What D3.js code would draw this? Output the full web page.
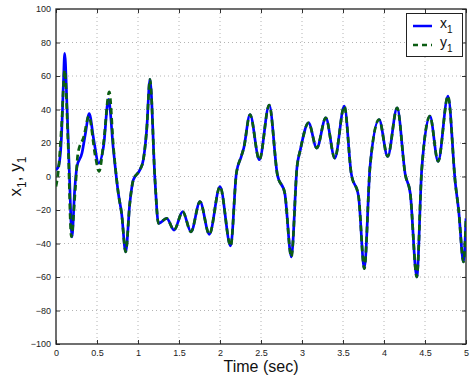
<!DOCTYPE html>
<html><head><meta charset="utf-8">
<script src="https://cdn.jsdelivr.net/npm/d3@7"></script>
<style>html,body{margin:0;padding:0;background:#fff;}svg{display:block;font-family:"Liberation Sans",Arial,sans-serif;}</style>
</head><body>
<svg id="c" width="474" height="378"></svg>
<script>
const xTicks = [0, 0.5, 1, 1.5, 2, 2.5, 3, 3.5, 4, 4.5, 5];
const yTicks = [-100, -80, -60, -40, -20, 0, 20, 40, 60, 80, 100];
const seriesNames = ["x", "y"];

const tX = [0.0,0.03,0.065,0.09,0.106,0.134,0.163,0.195,0.228,0.256,0.317,0.36,0.405,0.46,0.52,0.58,0.64,0.70,0.76,0.80,0.85,0.90,0.943,1.024,1.065,1.106,1.146,1.207,1.25,1.35,1.44,1.545,1.646,1.756,1.87,2.0,2.13,2.2,2.26,2.29,2.366,2.48,2.60,2.70,2.79,2.87,2.94,2.98,3.08,3.18,3.29,3.40,3.516,3.60,3.69,3.76,3.83,3.94,4.045,4.16,4.26,4.32,4.40,4.46,4.56,4.66,4.78,4.87,4.91,4.97,5.0];
const x1 = [4,6,22,55,73.5,42,2,-36,-8,6,14,26,37.5,22,8,18,46,16,-10,-22,-45,-16,-2,4,10,28,58,-2,-28,-25,-32,-21,-33,-15,-34.5,-6,-41.5,2,12,17,37,10,42.7,1,-10,-48,6,16,32,17,35,11,42,2,-12,-55,6,34,12,41,1,-10,-60,4,36,9,48,-4,-20,-51,-25];

const tY = [0.0,0.03,0.07,0.106,0.146,0.187,0.235,0.268,0.34,0.40,0.48,0.525,0.58,0.65,0.70,0.76,0.80,0.85,0.90,0.943,1.024,1.065,1.106,1.146,1.207,1.25,1.35,1.44,1.545,1.646,1.756,1.87,2.0,2.13,2.2,2.26,2.29,2.366,2.48,2.60,2.70,2.79,2.87,2.94,2.98,3.08,3.18,3.29,3.40,3.516,3.60,3.69,3.76,3.83,3.94,4.045,4.16,4.26,4.32,4.40,4.46,4.56,4.66,4.78,4.87,4.91,4.97,5.0];
const y1 = [-6,4,32,63.5,22,-36,-8,14,24,36,12,3,20,50.5,18,-10,-22,-45,-16,-2,4,10,28,58,-2,-28,-25,-32,-21,-33,-15,-34.5,-6,-41.5,2,12,17,37,10,42.7,1,-10,-48,6,16,32,17,35,11,42,2,-12,-55,6,34,12,41,1,-10,-60,4,36,9,48,-4,-20,-51,-25];

const svg = d3.select("#c");
const L = 56, R = 466, T = 9, B = 344;
const x = d3.scaleLinear().domain([0, 5]).range([L, R]);
const y = d3.scaleLinear().domain([-100, 100]).range([B, T]);

// grid
const g = svg.append("g");
g.selectAll(".gx").data(xTicks.slice(1, -1)).enter().append("line")
  .attr("x1", d => x(d)).attr("x2", d => x(d)).attr("y1", T).attr("y2", B)
  .attr("stroke", "#b4b4b4").attr("stroke-width", 1).attr("stroke-dasharray", "1,3");
g.selectAll(".gy").data(yTicks.slice(1, -1)).enter().append("line")
  .attr("y1", d => y(d)).attr("y2", d => y(d)).attr("x1", L).attr("x2", R)
  .attr("stroke", "#b4b4b4").attr("stroke-width", 1).attr("stroke-dasharray", "1,3");

// axes
const fmt = d => (d < 0 ? "\u2212" + Math.abs(d) : String(d));
const ax = svg.append("g").attr("transform", `translate(0,${B})`)
  .call(d3.axisBottom(x).tickValues(xTicks).tickSize(-4).tickPadding(6).tickFormat(d => String(d)));
const axT = svg.append("g").attr("transform", `translate(0,${T})`)
  .call(d3.axisTop(x).tickValues(xTicks).tickSize(-4).tickFormat(""));
const ay = svg.append("g").attr("transform", `translate(${L},0)`)
  .call(d3.axisLeft(y).tickValues(yTicks).tickSize(-4).tickPadding(5).tickFormat(fmt));
const ayR = svg.append("g").attr("transform", `translate(${R},0)`)
  .call(d3.axisRight(y).tickValues(yTicks).tickSize(-4).tickFormat(""));
[ax, axT, ay, ayR].forEach(a => {
  a.select(".domain").remove();
  a.selectAll("line").attr("stroke", "#333");
  a.selectAll("text").attr("font-size", 9).attr("fill", "#222").attr("font-family", "Liberation Sans, Arial, sans-serif");
});
svg.append("rect").attr("x", L).attr("y", T).attr("width", R - L).attr("height", B - T)
  .attr("fill", "none").attr("stroke", "#222").attr("stroke-width", 1.3);

// lines
const line = d3.line().curve(d3.curveMonotoneX);
const clip = svg.append("clipPath").attr("id", "cp").append("rect")
  .attr("x", L).attr("y", T).attr("width", R - L).attr("height", B - T);
const plot = svg.append("g").attr("clip-path", "url(#cp)");
plot.append("path").attr("d", line(tX.map((t, i) => [x(t), y(x1[i])])))
  .attr("fill", "none").attr("stroke", "#0000ff").attr("stroke-width", 2.7).attr("stroke-linejoin", "round");
plot.append("path").attr("d", line(tY.map((t, i) => [x(t), y(y1[i])])))
  .attr("fill", "none").attr("stroke", "#0b5d12").attr("stroke-width", 2.7).attr("stroke-dasharray", "6,4");

// legend
const lg = svg.append("g");
lg.append("rect").attr("x", 406.5).attr("y", 13.5).attr("width", 56).attr("height", 43)
  .attr("fill", "#fff").attr("stroke", "#222").attr("stroke-width", 1);
const legendColors = ["#0000ff", "#0b5d12"];
const legendDash = [null, "5,4"];
seriesNames.forEach((n, i) => {
  const yy = 26 + i * 19;
  lg.append("line").attr("x1", 413).attr("x2", 432).attr("y1", yy).attr("y2", yy)
    .attr("stroke", legendColors[i]).attr("stroke-width", 2.5).attr("stroke-dasharray", legendDash[i]);
  const tx = lg.append("text").attr("x", 440).attr("y", yy + 2).attr("font-size", 14).attr("fill", "#111");
  tx.append("tspan").text(n);
  tx.append("tspan").attr("dy", 5).attr("font-size", 10).text("1");
});

// axis labels
svg.append("text").attr("x", x(2.5)).attr("y", 372).attr("text-anchor", "middle")
  .attr("font-size", 16).attr("fill", "#111").text("Time (sec)");
const yl = svg.append("text").attr("transform", `translate(21,${(T + B) / 2}) rotate(-90)`)
  .attr("text-anchor", "middle").attr("font-size", 17).attr("fill", "#111");
yl.append("tspan").text("x");
yl.append("tspan").attr("dy", 5).attr("font-size", 12).text("1");
yl.append("tspan").attr("dy", -5).text(", y");
yl.append("tspan").attr("dy", 5).attr("font-size", 12).text("1");
</script>
</body></html>
